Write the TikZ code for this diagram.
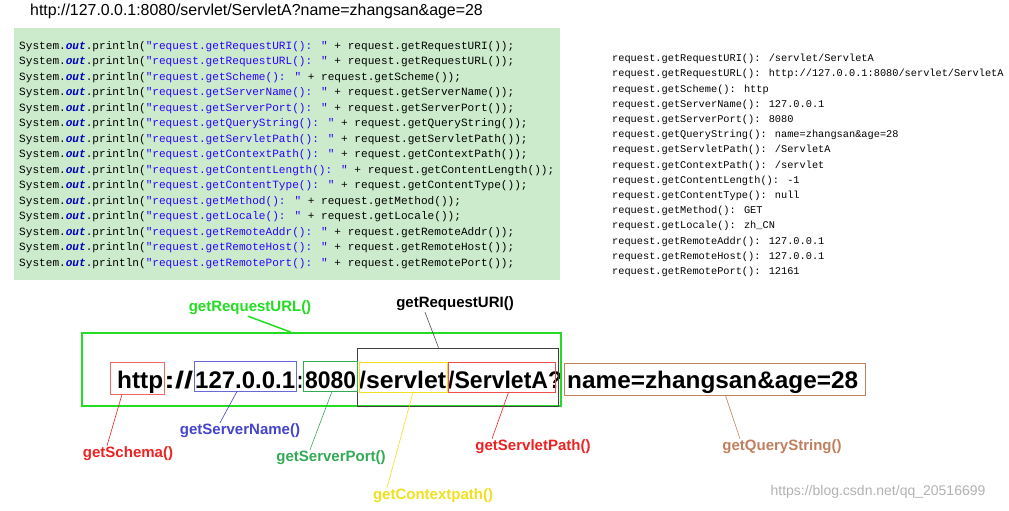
\documentclass[tikz,border=0pt]{standalone}
\usepackage{fontspec}
\setmainfont{Liberation Sans}
\newfontfamily\codefont{Liberation Mono}
\usetikzlibrary{positioning}
\definecolor{codebg}{HTML}{CCEBCC}
\definecolor{strblue}{HTML}{2A00FF}
\definecolor{kwblue}{HTML}{0000C0}
\definecolor{lgreen}{HTML}{22DD22}
\definecolor{pgreen}{HTML}{33AA55}
\definecolor{nblue}{HTML}{4444CC}
\definecolor{bred}{HTML}{EE2222}
\definecolor{qbrown}{HTML}{C08060}
\definecolor{yel}{HTML}{F0E020}
\newcommand{\cl}[1]{System.\textcolor{kwblue}{\textbf{\textit{out}}}.println(\textcolor{strblue}{"request.#1(): "} + request.#1());}
\newcommand{\fitw}[2]{\resizebox{#1pt}{\height}{#2}}
\begin{document}
\begin{tikzpicture}[x=1pt,y=-1pt,
  lbl/.style={font=\bfseries\fontsize{15}{17}\selectfont, inner sep=1pt},
  box/.style={draw, inner sep=0pt, line width=0.8pt},
  ut/.style={anchor=base west, inner sep=0, font=\bfseries\fontsize{24}{26}\selectfont},
  conn/.style={line width=0.6pt}]
\useasboundingbox (0,0) rectangle (1009,511);
\fill[white] (0,0) rectangle (1009,511);
\node[anchor=west, font=\fontsize{15.9}{17}\selectfont, inner sep=0] (title) at (30,11) {http://127.0.0.1:8080/servlet/ServletA?name=zhangsan\&age=28};
\node[fill=codebg, anchor=north west, minimum width=546, minimum height=252, inner sep=0] (code) at (14,28) {};
\node[anchor=north west, inner sep=0, align=left, font=\codefont\fontsize{11.1}{15.5}\selectfont] (codetext) at (19,41) {%
\cl{getRequestURI}\\\cl{getRequestURL}\\\cl{getScheme}\\\cl{getServerName}\\\cl{getServerPort}\\\cl{getQueryString}\\\cl{getServletPath}\\\cl{getContextPath}\\\cl{getContentLength}\\\cl{getContentType}\\\cl{getMethod}\\\cl{getLocale}\\\cl{getRemoteAddr}\\\cl{getRemoteHost}\\\cl{getRemotePort}};
\node[anchor=north west, inner sep=0, align=left, font=\codefont\fontsize{10.3}{15.2}\selectfont] (out) at (612,54) {%
request.getRequestURI(): /servlet/ServletA\\
request.getRequestURL(): http://127.0.0.1:8080/servlet/ServletA\\
request.getScheme(): http\\
request.getServerName(): 127.0.0.1\\
request.getServerPort(): 8080\\
request.getQueryString(): name=zhangsan\&age=28\\
request.getServletPath(): /ServletA\\
request.getContextPath(): /servlet\\
request.getContentLength(): -1\\
request.getContentType(): null\\
request.getMethod(): GET\\
request.getLocale(): zh\_CN\\
request.getRemoteAddr(): 127.0.0.1\\
request.getRemoteHost(): 127.0.0.1\\
request.getRemotePort(): 12161};
% big URL pieces
\node[ut] (u1) at (117,388) {\fitw{46}{http}};
\node[ut] (u2) at (164,388) {\fitw{29}{://}};
\node[ut] (u3) at (195,388) {\fitw{100}{127.0.0.1}};
\node[ut] (u4) at (297,388) {\fitw{6}{:}};
\node[ut] (u5) at (305,388) {\fitw{51}{8080}};
\node[ut] (u6) at (359,388) {\fitw{87}{/servlet}};
\node[ut] (u7) at (448,388) {\fitw{114}{/ServletA?}};
\node[ut] (u8) at (567,388) {\fitw{291}{name=zhangsan\&age=28}};
\node[box, draw=lgreen, line width=2pt, minimum width=479, minimum height=73] (burl) at (321.5,369.5) {};
\node[box, draw=black!75, minimum width=201, minimum height=58] (buri) at (457.5,377) {};
\node[box, draw=bred!70, minimum width=54, minimum height=32] (bhttp) at (137,378) {};
\node[box, draw=nblue!80, minimum width=102, minimum height=30] (bname) at (245,376) {};
\node[box, draw=pgreen, minimum width=54, minimum height=30] (bport) at (330,376) {};
\node[box, draw=yel, minimum width=88, minimum height=30] (bctx) at (403,377) {};
\node[box, draw=bred!80, minimum width=107, minimum height=30] (bsp) at (501.5,377) {};
\node[box, draw=qbrown, minimum width=301, minimum height=32] (bq) at (714.5,379) {};
% labels
\node[lbl, text=lgreen] (lurl) at (250,308) {getRequestURL()};
\node[lbl, text=black] (luri) at (455,304) {getRequestURI()};
\node[lbl, text=bred] (lschema) at (128,454) {getSchema()};
\node[lbl, text=nblue] (lname) at (240,431) {getServerName()};
\node[lbl, text=pgreen] (lport) at (331,458) {getServerPort()};
\node[lbl, text=yel] (lctx) at (433,496) {getContextpath()};
\node[lbl, text=bred] (lsp) at (533,447) {getServletPath()};
\node[lbl, text=qbrown] (lq) at (782,447) {getQueryString()};
\node[text=black!30, font=\fontsize{14}{16}\selectfont, inner sep=0] (wm) at (878,492) {https://blog.csdn.net/qq\_20516699};
% connectors
\draw[conn, draw=lgreen, line width=1.5pt] ([xshift=-2]lurl.south) -- ([xshift=-31]burl.north);
\draw[conn, draw=black!70] ([xshift=-30]luri.south) -- ([xshift=-19]buri.north);
\draw[conn, draw=bred] ([xshift=-21]lschema.north) -- ([xshift=-15]bhttp.south);
\draw[conn, draw=nblue] ([xshift=-20]lname.north) -- ([xshift=-8]bname.south);
\draw[conn, draw=pgreen] ([xshift=-21]lport.north) -- ([xshift=2]bport.south);
\draw[conn, draw=yel] ([xshift=-46]lctx.north) -- ([xshift=10]bctx.south);
\draw[conn, draw=bred] ([xshift=-41]lsp.north) -- ([xshift=7]bsp.south);
\draw[conn, draw=qbrown] ([xshift=-42]lq.north) -- ([xshift=11]bq.south);
\end{tikzpicture}
\end{document}
